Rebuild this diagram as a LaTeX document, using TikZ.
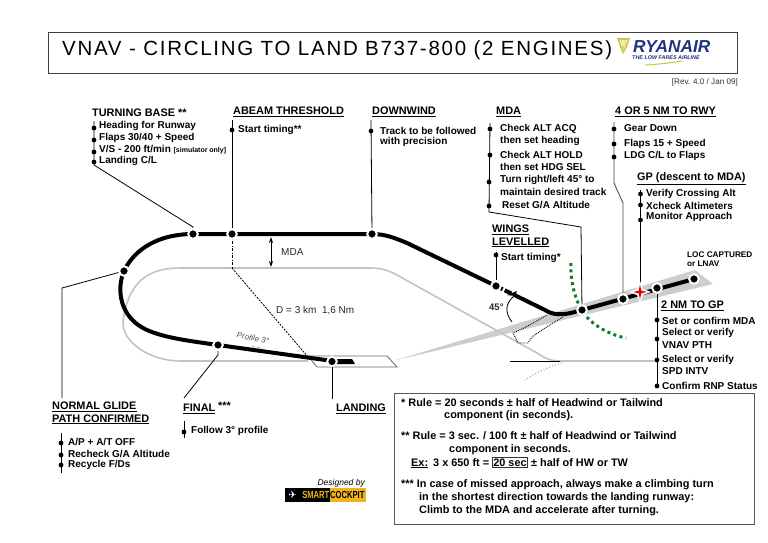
\documentclass[tikz,border=0pt]{standalone}
\usepackage{fontspec}
\usetikzlibrary{arrows.meta,calc}
\setmainfont{Liberation Sans}
\newfontfamily\titlefont[LetterSpace=8.4]{Liberation Sans}
\newfontfamily\symbfont{DejaVu Sans}
\definecolor{rynblue}{RGB}{30,50,130}
\definecolor{rynyellow}{RGB}{205,195,60}
\definecolor{sckyellow}{RGB}{240,180,30}
\definecolor{bandgray}{RGB}{205,205,205}
\definecolor{loopgray}{RGB}{195,195,195}
\definecolor{glidegreen}{RGB}{20,125,45}
\tikzset{
  item/.style={anchor=west,inner sep=0pt,font=\fontsize{10}{12}\selectfont\bfseries},
  head/.style={item,font=\fontsize{10.9}{12}\selectfont\bfseries},
  note/.style={item,font=\fontsize{10.9}{12}\selectfont\bfseries},
  track/.style={line width=4pt},
  leader/.style={line width=0.8pt},
  onpath/.style={circle,fill=black,draw=white,line width=2pt,minimum size=9.6pt,inner sep=0pt},
  bull/.style={circle,fill=black,minimum size=4.8pt,inner sep=0pt},
  thin label/.style={anchor=west,inner sep=0pt,font=\fontsize{10}{12}\selectfont,text=black!85},
}
\newcommand{\uline}[1]{\draw[line width=0.9pt]($(#1.south west)+(0,1.2)$)--($(#1.south east)+(0,1.2)$);}
\begin{document}
\begin{tikzpicture}[x=1pt,y=-1pt]
\useasboundingbox (0,0) rectangle (768,543);
%title
\node[draw=black!75,line width=0.9pt,minimum width=689pt,minimum height=41pt,anchor=north west,inner sep=0pt](titlebox) at (48,32){};
\node[anchor=west,inner sep=0pt,font=\titlefont\fontsize{20.5}{24}\selectfont](titletext) at (62,50){VNAV - CIRCLING TO LAND B737-800 (2 ENGINES)};
\node[anchor=east,inner sep=0pt,font=\fontsize{8.1}{9}\selectfont,text=black!80](rev) at (738,82){[Rev. 4.0 / Jan 09]};
%logo
\node[anchor=west,inner sep=0pt,text=rynblue,font=\fontsize{17.3}{18}\selectfont\bfseries\itshape](ryan) at (633,47){RYANAIR};
\node[anchor=west,inner sep=0pt,text=rynblue,font=\fontsize{5.4}{6}\selectfont\itshape\bfseries](fares) at (632,57.5){THE LOW FARES AIRLINE};
\fill[rynyellow](617,38)--(630,38)--(627,47)--(623,54)--(620,47)--cycle;
\fill[white](619.5,40)--(627.5,40)--(625.5,46)--(623.5,50)--(621.5,46)--cycle;
\draw[rynyellow,line width=0.6pt](621.5,40)--(622.5,48)(624,40)--(623.7,49)(626,40)--(624.8,47);
\draw[rynyellow,line width=1pt](645,65) .. controls (657,64.5) and (670,63) .. (682,61);
%band and gray loop
\fill[bandgray](393,361)--(695,270)--(713,284)--cycle;
\draw[loopgray,line width=1.6pt](655,361)--(560,361) .. controls (550,361) and (545,358) .. (537,353)--(397,275) .. controls (388,270) and (380,268) .. (370,268)--(180,268) .. controls (150,268) and (128,280) .. (123,322) .. controls (122,342) and (150,361) .. (180,361)--(308,361);
%runway
\draw[black!60,line width=0.8pt](308,356)--(387,356)--(397,367)--(317,367)--cycle;
\draw[leader](510,361)--(560,361);
%turn dots
\draw[densely dotted,line width=0.9pt](547,315) .. controls (535,322) and (525,328) .. (513,333)--(518,343)--(528,343)--(532,337) .. controls (542,330) and (552,323) .. (563,317);
\draw[dotted,black!35,line width=1.1pt](562,363) .. controls (548,367) and (535,373) .. (525,380);
%track
\draw[track](694,279)--(582,310)--(578,311) .. controls (562,316) and (553,315) .. (545,310)--(496,286)--(407,243) .. controls (395,238) and (385,234) .. (372,234)--(193,234) .. controls (160,234) and (135,248) .. (124,271) .. controls (116,290) and (120,318) .. (147,330) .. controls (165,338) and (190,341) .. (218,345)--(336,361.5);
\fill(336,359)--(352,359)--(355,364)--(336,364)--cycle;
\draw[white,line width=2pt](505,287)--(501,295);
\draw[white,line width=2pt](514,290)--(510,300);
%green arc
\draw[glidegreen,line width=3pt,dash pattern=on 3pt off 3.4pt](571,263) .. controls (570,280) and (575,302) .. (585,315) .. controls (595,327) and (611,335) .. (626,338);
%mda arrow
\coordinate(mdaup) at (271,237);
\coordinate(mdadn) at (271,267);
\draw[{Stealth[length=6pt,width=4pt]}-{Stealth[length=6pt,width=4pt]},line width=0.8pt](mdaup)--(mdadn);
\node[thin label](mdatxt) at (281,252){MDA};
\node[thin label](dist) at (276,311){D = 3 km\ \ 1,6 Nm};
\draw[line width=0.8pt,dash pattern=on 3pt off 1.5pt on 1pt off 1.5pt](232,234)--(232,268);
\draw[line width=0.8pt,dash pattern=on 2pt off 1.2pt](232,268)--(308,357);
\node[rotate=-10,inner sep=0pt,font=\fontsize{8}{9}\selectfont\itshape,text=black!70](prof) at (253,338){Profile 3°};
\draw[black!50,line width=0.5pt,densely dashed](252,346.5)--(262,348);
%angle
\draw[line width=0.8pt](512,322) .. controls (505,313) and (505,304) .. (513,297);
\fill(507,295)--(517,291)--(515,296)--cycle;
\node[item,font=\fontsize{9.5}{11}\selectfont\bfseries,text=black!85](deg) at (489,307){45°};
%turning base
\node[head](tb) at (92,113){TURNING BASE **};
\node[item](tb1) at (99,126){Heading for Runway};
\node[item](tb2) at (99,137.5){Flaps 30/40 + Speed};
\node[item](tb3) at (99,149.5){V/S - 200 ft/min \fontsize{7}{8}\selectfont[simulator only]};
\node[item](tb4) at (99,161){Landing C/L};
\node[onpath](ptb) at (193,234){};
\coordinate(tbtop) at (94,121);
\coordinate(tbend) at (94,165);
\coordinate(tbknee) at (193,227);
\draw[leader](tbtop)--(tbend)--(tbknee)--(ptb);
\node[bull] at (94,128){};
\node[bull] at (94,140){};
\node[bull] at (94,152){};
\node[bull] at (94,162){};
%abeam
\node[head](ab) at (233,111){ABEAM THRESHOLD};
\uline{ab}
\node[item](ab1) at (238,130){Start timing**};
\node[onpath](pab) at (232,234){};
\coordinate(abtop) at (232,120);
\draw[leader](abtop)--(pab);
\node[bull] at (232,130){};
%downwind
\node[head](dw) at (372,111){DOWNWIND};
\uline{dw}
\node[item](dw1) at (380,130.5){Track to be followed};
\node[item](dw2) at (380,142){with precision};
\node[onpath](pdw) at (372,234){};
\coordinate(dwtop) at (371,120);
\draw[leader](dwtop)--(pdw);
\node[bull] at (371,131){};
%mda
\node[head](md) at (496,111){MDA};
\uline{md}
\node[item](md1) at (500,129){Check ALT ACQ};
\node[item](md2) at (500,141){then set heading};
\node[item](md3) at (500,155){Check ALT HOLD};
\node[item](md4) at (500,167){then set HDG SEL};
\node[item](md5) at (500,180){Turn right/left 45° to};
\node[item](md6) at (500,192){maintain desired track};
\node[item](md7) at (502,205){Reset G/A Altitude};
\node[onpath](pmd) at (582,310){};
\coordinate(mdtop) at (490,123);
\coordinate(mdend) at (489,212);
\coordinate(mdknee) at (581,227);
\draw[leader](mdtop)--(mdend)--(mdknee)--(pmd);
\node[bull] at (490,129){};
\node[bull] at (490,155){};
\node[bull] at (489,182){};
\node[bull] at (489,206){};
%4 or 5 nm
\node[head](nm) at (615,111){4 OR 5 NM TO RWY};
\uline{nm}
\node[item](nm1) at (624,128){Gear Down};
\node[item](nm2) at (624,144){Flaps 15 + Speed};
\node[item](nm3) at (624,156){LDG C/L to Flaps};
\node[onpath](pnm) at (623,299){};
\coordinate(nmtop) at (614,122);
\coordinate(nmknee) at (614,183);
\coordinate(nmturn) at (623,203);
\draw[leader,black!75](nmtop)--(nmknee)--(nmturn)--(pnm);
\node[bull] at (614,129){};
\node[bull] at (614,144){};
\node[bull] at (614,157){};
%gp
\node[head](gp) at (637,178){GP (descent to MDA)};
\uline{gp}
\node[item](gp1) at (646,194){Verify Crossing Alt};
\node[item](gp2) at (646,205.5){Xcheck Altimeters};
\node[item](gp3) at (646,217){Monitor Approach};
\coordinate(gptop) at (640.5,190);
\coordinate(gpend) at (640.5,283);
\draw[leader](gptop)--(gpend);
\node[bull] at (640.5,194){};
\node[bull] at (640.5,205){};
\node[bull] at (640.5,220){};
%star
\fill[white](640,281)--(643,289)--(651,292)--(643,295)--(640,303)--(637,295)--(629,292)--(637,289)--cycle;
\fill[red!90!black](640,284.5)--(641.3,290.7)--(647,292)--(641.3,293.3)--(640,299.5)--(638.7,293.3)--(633,292)--(638.7,290.7)--cycle;
%loc
\node[item,font=\fontsize{8.2}{9}\selectfont\bfseries](lc1) at (687,254.5){LOC CAPTURED};
\node[item,font=\fontsize{8.2}{9}\selectfont\bfseries](lc2) at (687,264){or LNAV};
\node[onpath](ploc) at (694,279){};
%2 nm
\node[head](gn) at (661,305){2 NM TO GP};
\uline{gn}
\node[item](gn1) at (662,321){Set or confirm MDA};
\node[item](gn2) at (662,333){Select or verify};
\node[item](gn3) at (662,345){VNAV PTH};
\node[item](gn4) at (662,360){Select or verify};
\node[item](gn5) at (662,371.5){SPD INTV};
\node[item](gn6) at (662,386){Confirm RNP Status};
\node[onpath](pgn) at (657,288){};
\coordinate(gnend) at (657,386);
\draw[leader](pgn)--(gnend);
\node[bull] at (657,320){};
\node[bull] at (657,339){};
\node[bull] at (657,360){};
\node[bull] at (657,386){};
%wings
\node[head](wl1) at (492,229){WINGS};
\uline{wl1}
\node[head](wl2) at (492,241.5){LEVELLED};
\uline{wl2}
\node[item](wl3) at (501,258){Start timing*};
\node[onpath](pwl) at (496,286){};
\coordinate(wltop) at (496,252);
\draw[leader](wltop)--(pwl);
\node[bull] at (496,255){};
%normal glide
\node[head](ng1) at (52,406){NORMAL GLIDE};
\uline{ng1}
\node[head](ng2) at (52,418.5){PATH CONFIRMED};
\uline{ng2}
\node[item](ng3) at (68,442){A/P + A/T OFF};
\node[item](ng4) at (68,453.5){Recheck G/A Altitude};
\node[item](ng5) at (68,465){Recycle F/Ds};
\node[onpath](png) at (124,271){};
\coordinate(ngknee) at (62,288);
\coordinate(ngend) at (62,398);
\draw[leader](png)--(ngknee)--(ngend);
\coordinate(nglow) at (61,433);
\coordinate(nglast) at (61,473);
\draw[leader](nglow)--(nglast);
\node[bull] at (61,443){};
\node[bull] at (61,455){};
\node[bull] at (61,465){};
%final
\node[head](fi) at (183,408){FINAL};
\uline{fi}
\node[head,anchor=west](fis) at (218,406){***};
\node[item](fi1) at (191,431){Follow 3° profile};
\node[onpath](pfi) at (218,345){};
\coordinate(fiknee) at (218,355);
\coordinate(fiend) at (184,398);
\draw[leader](pfi)--(fiknee)--(fiend);
\coordinate(filow) at (184,421);
\coordinate(filast) at (184,438);
\draw[leader](filow)--(filast);
\node[bull] at (184,432){};
%landing
\node[head](ld) at (336,408){LANDING};
\uline{ld}
\node[onpath](pld) at (332,361.5){};
\coordinate(ldend) at (332,399);
\draw[leader](pld)--(ldend);
%designed by
\node[anchor=east,inner sep=0pt,font=\fontsize{8.5}{9}\selectfont\itshape](des) at (365,483){Designed by};
\node[fill=black,minimum width=81pt,minimum height=14pt,anchor=north west,inner sep=0pt](sck) at (285,488){};
\fill[sckyellow](330,488) rectangle (366,502);
\node[inner sep=0pt,text=white,font=\symbfont\fontsize{10}{10}\selectfont](plane) at (292.5,495){✈};
\node[anchor=east,inner sep=0pt,text=sckyellow,font=\fontsize{7.6}{9}\selectfont\bfseries](sm) at (329.5,495){\scalebox{1}[1.35]{SMART}};
\node[anchor=west,inner sep=0pt,text=black,font=\fontsize{7.6}{9}\selectfont\bfseries](cp) at (330,495){\scalebox{1}[1.35]{COCKPIT}};
%notes
\node[draw=black!65,line width=1.2pt,minimum width=360pt,minimum height=131pt,anchor=north west,inner sep=0pt](notes) at (394,393){};
\node[note](n1) at (401,403){* Rule = 20 seconds ± half of Headwind or Tailwind};
\node[note](n2) at (444,416){component (in seconds).};
\node[note](n3) at (401,436){** Rule = 3 sec. / 100 ft ± half of Headwind or Tailwind};
\node[note](n4) at (449,449.5){component in seconds.};
\node[note](n5) at (411,462.5){Ex:};
\uline{n5}
\node[note](n6) at (433,462.5){3 x 650 ft =};
\node[note,draw=black!80,line width=0.7pt,inner sep=1pt](n7) at (492,462.5){20 sec};
\node[note](n8) at (531,462.5){± half of HW or TW};
\node[note](n9) at (401,485){*** In case of missed approach, always make a climbing turn};
\node[note](n10) at (419,498){in the shortest direction towards the landing runway:};
\node[note](n11) at (419,510.5){Climb to the MDA and accelerate after turning.};
\end{tikzpicture}
\end{document}
